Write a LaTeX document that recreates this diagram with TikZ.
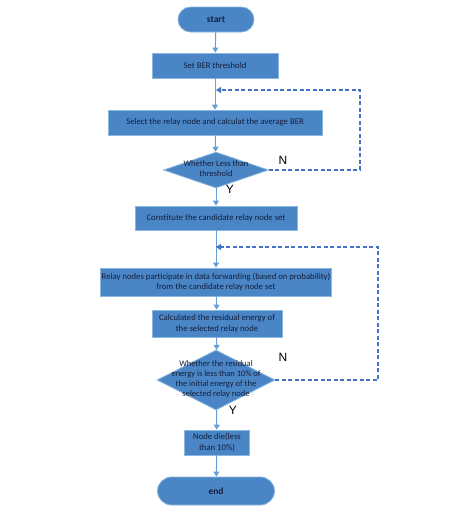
\documentclass[tikz,border=0pt]{standalone}
\usepackage{fontspec}
\setmainfont{Carlito}
\setsansfont{Liberation Sans}
\usepackage{tikz}
\usetikzlibrary{shapes.geometric, arrows.meta, positioning}
\definecolor{boxblue}{RGB}{74,134,198}
\definecolor{edgeblue}{RGB}{140,182,226}
\definecolor{lineblue}{RGB}{100,160,215}
\definecolor{loopblue}{RGB}{68,114,196}
\definecolor{inkblue}{RGB}{20,30,60}

\begin{document}
\begin{tikzpicture}[x=1pt, y=-1pt,
    proc/.style={draw=edgeblue, fill=boxblue, line width=0.8pt, minimum height=25pt, align=center, inner sep=1pt, text=inkblue, font=\fontsize{8.7}{10.5}\selectfont},
    term/.style={proc, rounded corners=12.5pt, font=\fontsize{9.5}{10}\selectfont\bfseries},
    decision/.style={draw=edgeblue, fill=boxblue, line width=0.8pt, diamond, inner sep=0pt},
    dtext/.style={align=center, text=inkblue, font=\fontsize{8.5}{10}\selectfont},
    yn/.style={font=\fontsize{12}{12}\selectfont\sffamily, text=black},
    arr/.style={-{Triangle[width=6pt,length=5pt]}, lineblue, line width=1pt},
    back/.style={-{Triangle[width=6pt,length=5pt]}, loopblue, line width=1.6pt, dash pattern=on 4pt off 2.5pt}
]
    \useasboundingbox (0,0) rectangle (474,507);

    \node[term, minimum width=76pt] (start) at (216,19.5) {start};
    \node[proc, minimum width=126pt] (setber) at (215,65.5) {Set BER threshold};
    \node[proc, minimum width=214pt] (select) at (215,122.5) {Select the relay node and calculat the average BER};
    \node[decision, minimum width=105pt, minimum height=36pt] (dec1) at (216,170) {};
    \node[dtext] (dec1txt) at (216,169) {Whether Less than\\threshold};
    \node[proc, minimum width=162pt, minimum height=24pt] (constit) at (216,218) {Constitute the candidate relay node set};
    \node[proc, minimum width=228pt, minimum height=28pt] (relay) at (216,282) {Relay nodes participate in data forwarding (based on probability)\\from the candidate relay node set};
    \node[proc, minimum width=130pt, minimum height=27pt] (calc) at (217,323.5) {Calculated the residual energy of\\the selected relay node};
    \node[decision, minimum width=118pt, minimum height=60pt] (dec2) at (216,380) {};
    \node[dtext] (dec2txt) at (216,379) {Whether the residual\\energy is less than 10\% of\\the initial energy of the\\selected relay node};
    \node[proc, minimum width=65pt] (nodedie) at (217,442.5) {Node die(less\\than 10\%)};
    \node[term, minimum width=117pt, minimum height=28pt, rounded corners=14pt] (end) at (216,491) {end};

    \node[yn] (n1) at (283,160) {N};
    \node[yn] (y1) at (230,189) {Y};
    \node[yn] (n2) at (283,357) {N};
    \node[yn] (y2) at (233,410) {Y};

    \coordinate (join1) at (216,90);
    \coordinate (corner1) at (360,90);
    \coordinate (join2) at (216,247);
    \coordinate (corner2) at (378,247);

    \draw[arr] (start) -- (setber);
    \draw[arr] (setber) -- (select);
    \draw[arr] (select) -- (dec1);
    \draw[arr] (dec1) -- (constit);
    \draw[arr] (constit) -- (relay);
    \draw[arr] (relay) -- (calc);
    \draw[arr] (calc) -- (dec2);
    \draw[arr] (dec2) -- (nodedie);
    \draw[arr] (nodedie) -- (end);

    \draw[back] (dec1.east) -| (corner1) -- (join1);
    \draw[back] (dec2.east) -| (corner2) -- (join2);
\end{tikzpicture}
\end{document}
